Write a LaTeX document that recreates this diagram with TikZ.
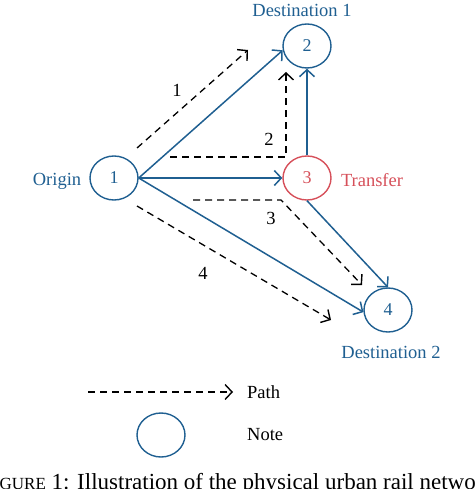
\documentclass[tikz,border=0pt]{standalone}
\usepackage{fontspec}
\setmainfont{Liberation Serif}
\usetikzlibrary{shapes.geometric,arrows.meta}
\definecolor{nblue}{RGB}{31,95,145}
\definecolor{nred}{RGB}{214,80,90}
\tikzset{
  stn/.style={ellipse,draw=nblue,line width=1.4pt,minimum width=48pt,minimum height=44pt,inner sep=0pt,text=nblue,font=\fontsize{18}{20}\selectfont},
  lbl/.style={font=\fontsize{18.5}{21}\selectfont,inner sep=0pt},
  link/.style={draw=nblue,line width=1.5pt,-{Straight Barb[length=7pt,width=15pt,line width=1.5pt]}},
  pth/.style={draw=black,line width=1.3pt,dash pattern=on 7pt off 5pt,-{Straight Barb[length=7pt,width=15pt,line width=1.4pt]}},
}
\begin{document}
\begin{tikzpicture}[x=1pt,y=-1pt]
\useasboundingbox (0,0) rectangle (474,489);
% stations
\node[stn] (n1) at (114,178) {1};
\node[stn] (n2) at (307,46) {2};
\node[stn,draw=nred,text=nred] (n3) at (307,178) {3};
\node[stn] (n4) at (388,310) {4};
% station labels
\node[lbl,text=nblue] (d1) at (302,10) {Destination 1};
\node[lbl,text=nblue] (org) at (57,181) {Origin};
\node[lbl,text=nred] (trf) at (372,180) {Transfer};
\node[lbl,text=nblue] (d2) at (391,352) {Destination 2};
% links
\draw[link] (n1.east) -- (n2.190);
\draw[link] (n1.east) -- (n3.west);
\draw[link] (n3.north) -- (n2.south);
\draw[link] (n3.south) -- (n4.north);
\draw[link] (n1.east) -- (n4.185);
% paths
\coordinate (p1s) at (137,148); \coordinate (p1e) at (248,50);
\coordinate (p2s) at (170,157); \coordinate (p2c) at (286,157); \coordinate (p2e) at (286,72);
\coordinate (p3s) at (193,200); \coordinate (p3c) at (281,200); \coordinate (p3e) at (362,285);
\coordinate (p4s) at (137,206); \coordinate (p4e) at (331,320);
\draw[pth] (p1s) -- (p1e);
\draw[pth] (p2s) -- (p2c) -- (p2e);
\draw[pth] (p3s) -- (p3c) -- (p3e);
\draw[pth] (p4s) -- (p4e);
\node[lbl] (l1) at (177,90) {1};
\node[lbl] (l2) at (269,139) {2};
\node[lbl] (l3) at (271,218) {3};
\node[lbl] (l4) at (203,273) {4};
% legend
\coordinate (lgs) at (88,392); \coordinate (lge) at (233,392);
\draw[pth] (lgs) -- (lge);
\node[lbl,anchor=west] (lpath) at (247,392) {Path};
\node[stn] (lnote) at (161,435) {};
\node[lbl,anchor=west] (lnotet) at (247,435) {Note};
% caption (cropped as in the reference)
\node[anchor=base west,inner sep=0pt,font=\fontsize{23}{25}\selectfont] (cap) at (-19,489) {F{\fontsize{17}{19}\selectfont IGURE} 1: Illustration of the physical urban rail network};
\end{tikzpicture}
\end{document}
